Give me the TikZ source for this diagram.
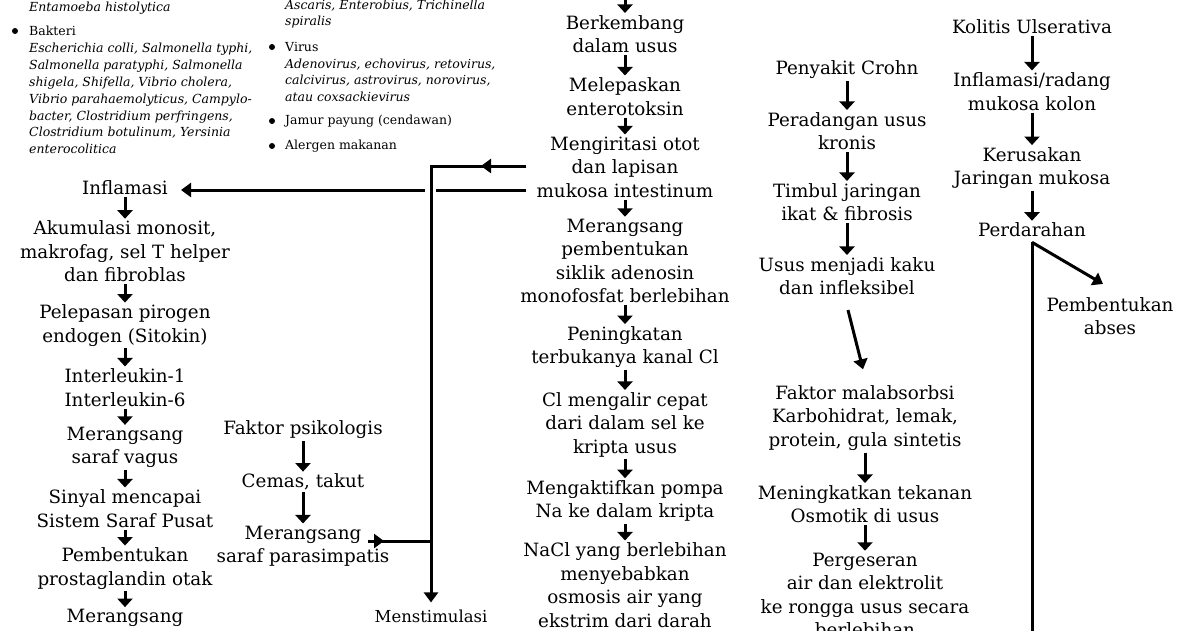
\documentclass[tikz,border=0pt]{standalone}
\usepackage{fontspec}
\setmainfont{DejaVu Serif}
\usetikzlibrary{arrows.meta,calc}
\tikzset{
  txt/.style={font=\fontsize{18.3}{23.5}\selectfont, align=center, inner sep=1pt},
  stxt/.style={font=\fontsize{16.5}{20}\selectfont, align=center, inner sep=1pt},
  arr/.style={line width=3pt, -{Triangle[width=15pt,length=8.5pt]}, shorten <=1pt, shorten >=1pt},
  conn/.style={line width=3pt},
  conntip/.style={line width=3pt, -{Triangle[width=14pt,length=10pt]}},
  lst/.style={font=\fontsize{12.5}{16.9}\selectfont, align=left, inner sep=0pt, anchor=west},
  bul/.style={circle, fill, inner sep=0pt, minimum size=6pt}
}
\begin{document}
\begin{tikzpicture}[x=1pt,y=-1pt]
\path[fill=white] (0,0) rectangle (1200,630);
\useasboundingbox (0,0) rectangle (1200,630);

% ---------- lists ----------
\node[lst] (l0) at (29,8) {\itshape Entamoeba histolytica};
\node[bul] (b1) at (15,31) {};
\node[lst] (l1) at (29,90) {Bakteri\\
\itshape Escherichia colli, Salmonella typhi,\\
\itshape Salmonella paratyphi, Salmonella\\
\itshape shigela, Shifella, Vibrio cholera,\\
\itshape Vibrio parahaemolyticus, Campylo-\\
\itshape bacter, Clostridium perfringens,\\
\itshape Clostridium botulinum, Yersinia\\
\itshape enterocolitica};

\node[lst] (l2) at (285,14) {\itshape Ascaris, Enterobius, Trichinella\\ \itshape spiralis};
\node[bul] (b2) at (272,47) {};
\node[lst] (l3) at (285,72) {Virus\\
\itshape Adenovirus, echovirus, retovirus,\\
\itshape calcivirus, astrovirus, norovirus,\\
\itshape atau coxsackievirus};
\node[bul] (b3) at (272,121) {};
\node[lst] (l4) at (285,121) {Jamur payung (cendawan)};
\node[bul] (b4) at (272,146) {};
\node[lst] (l5) at (285,146) {Alergen makanan};

% ---------- centre column ----------
\coordinate (top) at (625,-12);
\node[txt] (bk) at (625,34) {Berkembang\\dalam usus};
\node[txt] (ml) at (625,96.5) {Melepaskan\\enterotoksin};
\node[txt] (mi) at (625,167) {Mengiritasi otot\\dan lapisan\\mukosa intestinum};
\node[txt] (mr) at (625,261) {Merangsang\\pembentukan\\siklik adenosin\\monofosfat berlebihan};
\node[txt] (pk) at (625,347) {Peningkatan\\terbukanya kanal Cl};
\node[txt] (cl) at (625,424.5) {Cl mengalir cepat\\dari dalam sel ke\\kripta usus};
\node[txt] (mp) at (625,501) {Mengaktifkan pompa\\Na ke dalam kripta};
\node[txt] (na) at (625,585) {NaCl yang berlebihan\\menyebabkan\\osmosis air yang\\ekstrim dari darah};
\draw[arr] (top) -- (bk.north);
\draw[arr] (bk.south) -- (ml.north);
\draw[arr] (ml.south) -- (mi.north);
\draw[arr] (mi.south) -- (mr.north);
\draw[arr] (mr.south) -- (pk.north);
\draw[arr] (pk.south) -- (cl.north);
\draw[arr] (cl.south) -- (mp.north);
\draw[arr] (mp.south) -- (na.north);

% ---------- left column ----------
\node[txt] (inf) at (125,188) {Inflamasi};
\node[txt] (ak) at (125,251.5) {Akumulasi monosit,\\makrofag, sel T helper\\dan fibroblas};
\node[txt] (pp) at (125,325.5) {Pelepasan pirogen\\endogen (Sitokin)};
\node[txt] (il) at (125,387.5) {Interleukin-1\\Interleukin-6};
\node[txt] (ms) at (125,447.5) {Merangsang\\saraf vagus};
\node[txt] (sy) at (125,508.5) {Sinyal mencapai\\Sistem Saraf Pusat};
\node[txt] (pb) at (125,568.5) {Pembentukan\\prostaglandin otak};
\node[txt] (mg) at (125,618) {Merangsang};
\draw[arr] (inf.south) -- (ak.north);
\draw[arr] (ak.south) -- (pp.north);
\draw[arr] (pp.south) -- (il.north);
\draw[arr] (il.south) -- (ms.north);
\draw[arr] (ms.south) -- (sy.north);
\draw[arr] (sy.south) -- (pb.north);
\draw[arr] (pb.south) -- (mg.north);

% ---------- psychological factor ----------
\node[txt] (fp) at (303,430) {Faktor psikologis};
\node[txt] (ct) at (303,482) {Cemas, takut};
\node[txt] (sp) at (303,546) {Merangsang\\saraf parasimpatis};
\node[stxt] (stim) at (431,616) {Menstimulasi};
\draw[arr] (fp.south) -- (ct.north);
\draw[arr] (ct.south) -- (sp.north);

% ---------- connectors from "Mengiritasi" ----------
\coordinate (up) at ($(mi.west)+(-9,-1)$);
\coordinate (lo) at ($(mi.west)+(-9,23)$);
\draw[conn] (up) -- (stim.north |- up) -- ($(stim.north)+(0,-10)$);
\draw[conntip] ($(stim.north)+(0,-20)$) -- ($(stim.north)+(0,-6)$);
\draw[conntip] (up) -- ($(stim.north |- up)+(50,0)$);
\draw[conn] (lo) -- ($(stim.north |- lo)+(5,0)$);
\draw[conntip] ($(stim.north |- lo)+(-6,0)$) -- ($(inf.east |- lo)+(12,0)$);
\coordinate (pst) at (368,541);
\draw[conn] (pst) -- (stim.north |- pst);
\draw[conntip] (pst) -- ++(16,0);

% ---------- Crohn ----------
\node[txt] (pc) at (847,70) {Penyakit Crohn};
\node[txt] (pu) at (847,131) {Peradangan usus\\kronis};
\node[txt] (tj) at (847,202) {Timbul jaringan\\ikat \& fibrosis};
\node[txt] (uk) at (847,276) {Usus menjadi kaku\\dan infleksibel};
\node[txt] (fm) at (865,418) {Faktor malabsorbsi\\Karbohidrat, lemak,\\protein, gula sintetis};
\node[txt] (mt) at (865,504) {Meningkatkan tekanan\\Osmotik di usus};
\node[txt] (pg) at (865,595) {Pergeseran\\air dan elektrolit\\ke rongga usus secara\\berlebihan};
\draw[arr] (pc.south) -- (pu.north);
\draw[arr] (pu.south) -- (tj.north);
\draw[arr] (tj.south) -- (uk.north);
\draw[conntip] ($(uk.south)+(1,14)$) -- ($(fm.north)+(-2,-15)$);
\draw[arr] (fm.south) -- (mt.north);
\draw[arr] (mt.south) -- (pg.north);

% ---------- Kolitis ----------
\node[txt] (ku) at (1032,27) {Kolitis Ulserativa};
\node[txt] (ir) at (1032,91.5) {Inflamasi/radang\\mukosa kolon};
\node[txt] (kj) at (1032,168) {Kerusakan\\Jaringan mukosa};
\node[txt] (pd) at (1032,230) {Perdarahan};
\node[txt] (ab) at (1110,316) {Pembentukan\\abses};
\draw[arr] (ku.south) -- (ir.north);
\draw[arr] (ir.south) -- (kj.north);
\draw[arr] (kj.south) -- (pd.north);
\coordinate (pdb) at ($(pd.south)+(0,4)$);
\coordinate (kend) at (1032,660);
\draw[conn] (pdb) -- (kend);
\draw[conntip] (pdb) -- ($(ab.north)+(-7,-12)$);
\end{tikzpicture}
\end{document}
